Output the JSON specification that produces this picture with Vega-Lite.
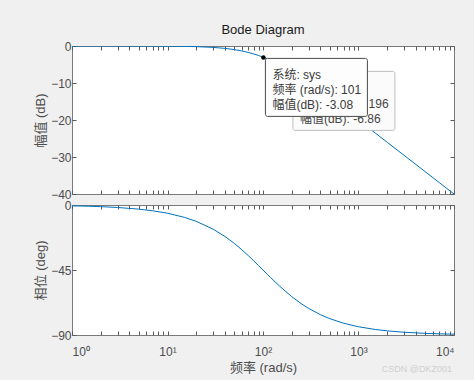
{
  "$schema": "https://vega.github.io/schema/vega-lite/v6.json",
  "background": "#f0f0f0",
  "padding": {"left": 34, "top": 23, "right": 20, "bottom": 5},
  "spacing": 11,
  "bounds": "flush",
  "config": {
    "view": {"fill": "white", "stroke": "#7a7a7a", "strokeWidth": 1},
    "axis": {
      "domain": false, "grid": false, "ticks": true, "tickColor": "#5a5a5a", "tickSize": -4,
      "labelFont": "Liberation Sans", "labelFontSize": 12, "labelColor": "#4d4d4d", "labelPadding": 5,
      "labelOverlap": false, "labelBound": false,
      "titleFont": "Liberation Sans, Noto Sans CJK SC", "titleFontSize": 13, "titleFontWeight": "normal", "titleColor": "#4d4d4d"
    }
  },
  "datasets": {
    "bode": [
      {"f": 1, "m": -0.0004, "p": -0.573},
      {"f": 1.5, "m": -0.001, "p": -0.859},
      {"f": 2, "m": -0.0017, "p": -1.146},
      {"f": 3, "m": -0.0039, "p": -1.718},
      {"f": 5, "m": -0.0108, "p": -2.862},
      {"f": 7, "m": -0.0212, "p": -4.004},
      {"f": 10, "m": -0.0432, "p": -5.711},
      {"f": 15, "m": -0.0966, "p": -8.531},
      {"f": 20, "m": -0.1703, "p": -11.31},
      {"f": 30, "m": -0.3743, "p": -16.699},
      {"f": 40, "m": -0.6446, "p": -21.801},
      {"f": 50, "m": -0.9691, "p": -26.565},
      {"f": 60, "m": -1.3354, "p": -30.964},
      {"f": 70, "m": -1.7319, "p": -34.992},
      {"f": 80, "m": -2.1484, "p": -38.66},
      {"f": 90, "m": -2.5768, "p": -41.987},
      {"f": 100, "m": -3.0103, "p": -45},
      {"f": 120, "m": -3.8739, "p": -50.194},
      {"f": 150, "m": -5.1188, "p": -56.31},
      {"f": 200, "m": -6.9897, "p": -63.435},
      {"f": 250, "m": -8.6034, "p": -68.199},
      {"f": 300, "m": -10, "p": -71.565},
      {"f": 400, "m": -12.3045, "p": -75.964},
      {"f": 500, "m": -14.1497, "p": -78.69},
      {"f": 700, "m": -16.9897, "p": -81.87},
      {"f": 1000, "m": -20.0432, "p": -84.289},
      {"f": 1500, "m": -23.5411, "p": -86.186},
      {"f": 2000, "m": -26.0314, "p": -87.138},
      {"f": 3000, "m": -29.5472, "p": -88.091},
      {"f": 5000, "m": -33.9811, "p": -88.854},
      {"f": 7000, "m": -36.903, "p": -89.182},
      {"f": 10000, "m": -40.0, "p": -89.427}
    ],
    "tips": [
      {"f": 196, "m": -6.86, "t": "系统: sys\n频率 (rad/s): 196\n幅值(dB): -6.86", "k": 2},
      {"f": 101, "m": -3.08, "t": "系统: sys\n频率 (rad/s): 101\n幅值(dB): -3.08", "k": 1}
    ],
    "mark": [{"f": 10000, "p": -90, "t": "CSDN @DKZ001"}]
  },
  "vconcat": [
    {
      "width": 382,
      "height": 148,
      "title": {"text": "Bode Diagram", "font": "Liberation Sans", "fontSize": 13, "fontWeight": "normal", "color": "#1a1a1a", "anchor": "middle", "frame": "group", "offset": 3},
      "resolve": {"axis": {"x": "independent", "y": "independent"}},
      "layer": [
        {
          "data": {"name": "bode"},
          "mark": {"type": "line", "color": "#0072BD", "strokeWidth": 1, "clip": true},
          "encoding": {
            "x": {"field": "f", "type": "quantitative", "scale": {"type": "log", "domain": [1, 10000], "nice": false},
              "axis": {"orient": "bottom", "labels": false, "title": null,
                "values": [1,2,3,4,5,6,7,8,9,10,20,30,40,50,60,70,80,90,100,200,300,400,500,600,700,800,900,1000,2000,3000,4000,5000,6000,7000,8000,9000,10000]}},
            "y": {"field": "m", "type": "quantitative", "scale": {"domain": [-40, 0], "nice": false},
              "axis": {"orient": "left", "values": [0, -10, -20, -30, -40], "title": "幅值 (dB)", "titlePadding": 3}}
          }
        },
        {
          "data": {"name": "bode"},
          "mark": {"type": "line", "opacity": 0},
          "encoding": {
            "x": {"field": "f", "type": "quantitative",
              "axis": {"orient": "top", "labels": false, "title": null,
                "values": [1,2,3,4,5,6,7,8,9,10,20,30,40,50,60,70,80,90,100,200,300,400,500,600,700,800,900,1000,2000,3000,4000,5000,6000,7000,8000,9000,10000]}},
            "y": {"field": "m", "type": "quantitative",
              "axis": {"orient": "right", "labels": false, "title": null, "values": [0, -10, -20, -30, -40]}}
          }
        },
        {
          "data": {"name": "tips"},
          "transform": [{"filter": "datum.k == 2"}],
          "mark": {"type": "rect", "fill": "#fbfbfb", "stroke": "#bdbdbd", "strokeWidth": 1, "cornerRadius": 2, "xOffset": 2, "x2Offset": 104, "yOffset": 0, "y2Offset": 59},
          "encoding": {
            "x": {"field": "f", "type": "quantitative", "axis": null},
            "x2": {"field": "f"},
            "y": {"field": "m", "type": "quantitative", "axis": null},
            "y2": {"field": "m"}
          }
        },
        {
          "data": {"name": "tips"},
          "transform": [{"filter": "datum.k == 2"}],
          "mark": {"type": "text", "align": "left", "baseline": "top", "dx": 9, "dy": 13, "lineBreak": "\n", "lineHeight": 15, "font": "Liberation Sans, Noto Sans CJK SC", "fontSize": 12, "color": "#444444"},
          "encoding": {
            "x": {"field": "f", "type": "quantitative", "axis": null},
            "y": {"field": "m", "type": "quantitative", "axis": null},
            "text": {"field": "t"}
          }
        },
        {
          "data": {"name": "tips"},
          "transform": [{"filter": "datum.k == 1"}],
          "mark": {"type": "rect", "fill": "#fdfdfd", "stroke": "#4a4a4a", "strokeWidth": 1, "cornerRadius": 2, "xOffset": 2, "x2Offset": 104, "yOffset": 1, "y2Offset": 59},
          "encoding": {
            "x": {"field": "f", "type": "quantitative", "axis": null},
            "x2": {"field": "f"},
            "y": {"field": "m", "type": "quantitative", "axis": null},
            "y2": {"field": "m"}
          }
        },
        {
          "data": {"name": "tips"},
          "transform": [{"filter": "datum.k == 1"}],
          "mark": {"type": "text", "align": "left", "baseline": "top", "dx": 9, "dy": 13, "lineBreak": "\n", "lineHeight": 15, "font": "Liberation Sans, Noto Sans CJK SC", "fontSize": 12, "color": "#3a3a3a"},
          "encoding": {
            "x": {"field": "f", "type": "quantitative", "axis": null},
            "y": {"field": "m", "type": "quantitative", "axis": null},
            "text": {"field": "t"}
          }
        },
        {
          "data": {"name": "tips"},
          "transform": [{"filter": "datum.k == 1"}],
          "mark": {"type": "point", "filled": true, "color": "#000000", "size": 20, "opacity": 1},
          "encoding": {
            "x": {"field": "f", "type": "quantitative", "axis": null},
            "y": {"field": "m", "type": "quantitative", "axis": null}
          }
        }
      ]
    },
    {
      "width": 382,
      "height": 130,
      "resolve": {"axis": {"x": "independent", "y": "independent"}},
      "layer": [
        {
          "data": {"name": "bode"},
          "mark": {"type": "line", "color": "#0072BD", "strokeWidth": 1, "clip": true},
          "encoding": {
            "x": {"field": "f", "type": "quantitative", "scale": {"type": "log", "domain": [1, 10000], "nice": false},
              "axis": {"orient": "bottom", "title": "频率  (rad/s)", "titlePadding": 4, "labelPadding": 15,
                "values": [1,2,3,4,5,6,7,8,9,10,20,30,40,50,60,70,80,90,100,200,300,400,500,600,700,800,900,1000,2000,3000,4000,5000,6000,7000,8000,9000,10000],
                "labelExpr": "indexof([1,10,100,1000,10000], datum.value) >= 0 ? '10' + ['⁰','¹','²','³','⁴'][round(log(datum.value)/LN10)] : ''"}},
            "y": {"field": "p", "type": "quantitative", "scale": {"domain": [-90, 0], "nice": false},
              "axis": {"orient": "left", "values": [0, -45, -90], "title": "相位 (deg)", "titlePadding": 3}}
          }
        },
        {
          "data": {"name": "bode"},
          "mark": {"type": "line", "opacity": 0},
          "encoding": {
            "x": {"field": "f", "type": "quantitative",
              "axis": {"orient": "top", "labels": false, "title": null,
                "values": [1,2,3,4,5,6,7,8,9,10,20,30,40,50,60,70,80,90,100,200,300,400,500,600,700,800,900,1000,2000,3000,4000,5000,6000,7000,8000,9000,10000]}},
            "y": {"field": "p", "type": "quantitative",
              "axis": {"orient": "right", "labels": false, "title": null, "values": [0, -45, -90]}}
          }
        },
        {
          "data": {"name": "mark"},
          "mark": {"type": "text", "align": "right", "baseline": "middle", "dx": -2, "dy": 34, "font": "Liberation Sans", "fontSize": 9, "color": "#cfcfcf"},
          "encoding": {
            "x": {"field": "f", "type": "quantitative", "axis": null},
            "y": {"field": "p", "type": "quantitative", "axis": null},
            "text": {"field": "t"}
          }
        }
      ]
    }
  ]
}
